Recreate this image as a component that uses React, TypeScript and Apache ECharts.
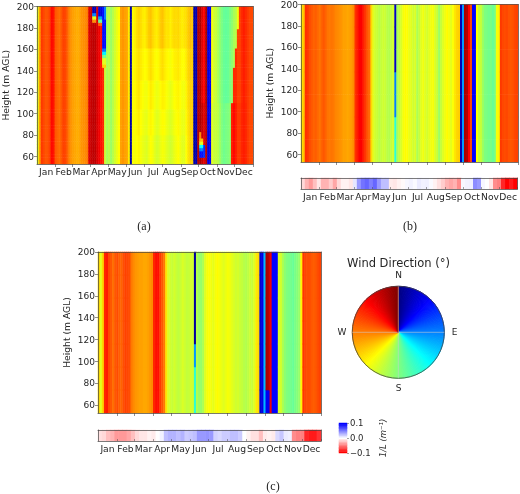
import React, { useEffect, useRef } from "react";
import * as echarts from "echarts";

const months = ["Jan", "Feb", "Mar", "Apr", "May", "Jun", "Jul", "Aug", "Sep", "Oct", "Nov", "Dec"];
const monthEdges = [31, 59, 90, 120, 151, 181, 212, 243, 273, 304, 334, 365];
const monthMids = [15.5, 45, 74.5, 105, 135.5, 166, 196.5, 227.5, 258, 288.5, 319, 349.5];
const heightTicks = [60, 80, 100, 120, 140, 160, 180, 200];
const colorbarTicks = [-0.1, 0, 0.1];

// wind direction (degrees) per column, panel (a): January to early June is the same at all heights
const windAWinterSpring = [
  215, 258, 295, 290, 285, 286, 292, 312, 308, 284,
  280, 276, 284, 292, 290, 280, 268, 262, 258, 256,
  254, 256, 262, 264, 266, 272, 328, 335, 338, 338,
  328, 320, 310, 302, 205, 195, 200, 190, 200, 210,
  218, 225, 258, 262, 258, 256, 232, 15, 224,
];
// June to mid-September, one list per height layer, bottom to top
const windASummerLayerLimits = [80, 105, 130, 160];
const windASummer0 = [222, 225, 228, 222, 218, 215, 212, 218, 225, 222, 215, 210, 212, 218, 222, 220, 215, 212, 208, 212, 218, 222, 225, 220, 215, 215, 225, 235, 240, 240];
const windASummer1 = [224, 227, 231, 225, 221, 218, 216, 222, 228, 225, 219, 214, 216, 222, 226, 224, 219, 216, 212, 216, 221, 224, 227, 222, 218, 218, 227, 236, 241, 241];
const windASummer2 = [226, 230, 234, 228, 224, 221, 220, 226, 232, 228, 222, 218, 220, 226, 230, 228, 223, 220, 216, 220, 225, 227, 229, 225, 221, 221, 229, 238, 242, 242];
const windASummer3 = [228, 232, 236, 232, 228, 225, 227, 232, 237, 232, 227, 224, 227, 233, 237, 232, 228, 226, 222, 226, 230, 231, 233, 229, 225, 226, 232, 240, 244, 243];
const windASummer4 = [230, 236, 240, 237, 232, 230, 236, 243, 246, 239, 234, 231, 236, 243, 246, 239, 234, 235, 230, 235, 238, 237, 239, 234, 231, 234, 237, 244, 249, 245];
// mid-September to December, below and above 110 m
const windAAutumnLow = [
  15, 18, 340, 345, 335, 325, 340, 35, 40, 215, 205,
  205, 200, 190, 180, 175, 178, 180, 185, 305, 312,
  305, 295, 295, 302, 305, 302, 295, 290, 290,
];
const windAAutumnHigh = [
  15, 18, 340, 345, 325, 315, 345, 35, 40, 222, 208,
  205, 195, 185, 178, 172, 170, 172, 178, 185, 300,
  300, 292, 292, 300, 305, 300, 295, 290, 290,
];
// [first column, last column, from height, to height, direction]
const windAPatches = [
  [28, 29, 194, 201, 20], [28, 29, 192, 194, 90], [28, 29, 190, 192, 150], [28, 29, 188, 190, 215], [28, 29, 184, 188, 265],
  [31, 32, 190, 201, 35], [31, 32, 188, 190, 100], [31, 32, 186, 188, 170], [31, 32, 184, 186, 230], [31, 32, 182, 184, 280],
  [33, 34, 160, 201, 50], [34, 34, 187, 201, 90], [33, 34, 157, 160, 85], [33, 34, 154, 157, 130],
  [33, 34, 151, 154, 175], [33, 34, 147, 151, 215], [33, 34, 143, 147, 240],
  [82, 83, 73, 76, 250], [82, 83, 70, 73, 215], [82, 83, 67, 70, 135], [82, 83, 64, 67, 90], [82, 83, 59, 64, 50],
  [82, 82, 76, 82, 265], [84, 84, 60, 72, 60],
  [99, 99, 143, 201, 195], [100, 100, 160, 201, 200], [101, 101, 180, 201, 220],
];

// panel (b)
const windB = [
  235, 245, 298, 295, 288, 284, 280, 282, 278, 274,
  280, 284, 280, 274, 272, 274, 272, 268, 266, 264,
  262, 258, 258, 256, 258, 260, 266, 298, 306, 316,
  316, 304, 295, 284, 278, 238, 214, 208, 205, 200,
  205, 208, 206, 200, 198, 205, 210, 150, 195, 205,
  212, 222, 226, 224, 218, 214, 208, 212, 196, 205,
  215, 220, 214, 210, 216, 220, 222, 212, 205, 190,
  205, 214, 220, 226, 222, 216, 224, 234, 240, 242,
  20, 100, 345, 340, 315, 290, 45, 45, 225, 205,
  205, 190, 180, 178, 175, 178, 172, 178, 222, 228,
  295, 290, 288, 290, 286, 284, 286, 290, 292,
];
const windBPatches = [[47, 47, 137, 201, 25], [47, 47, 105, 137, 90]];

// panel (c)
const windC = [
  240, 215, 240, 302, 306, 290, 284, 276, 284, 288,
  282, 280, 287, 292, 290, 288, 272, 266, 262, 260,
  258, 258, 256, 256, 258, 262, 266, 302, 310, 310,
  295, 284, 272, 234, 212, 208, 205, 210, 205, 202,
  206, 212, 208, 204, 205, 210, 208, 150, 198, 190,
  188, 196, 214, 222, 224, 220, 216, 222, 226, 222,
  218, 214, 218, 222, 220, 216, 212, 208, 210, 206,
  204, 200, 198, 202, 208, 205, 214, 232, 238, 30,
  35, 110, 345, 340, 320, 45, 45, 45, 212, 210,
  195, 185, 180, 178, 175, 172, 178, 182, 188, 228,
  296, 290, 288, 288, 284, 282, 284, 288, 292,
];
const windCPatches = [[47, 47, 126, 201, 12], [47, 47, 95, 126, 100], [82, 83, 53, 74, 40]];

// inverse Obukhov length strips
const stabilityB = [
  -0.015, -0.03, -0.04, -0.025, -0.01, -0.03, -0.03, -0.02, -0.035, -0.015,
  -0.005, -0.005, -0.01, 0.01, 0.04, 0.055, 0.06, 0.05, 0.06, 0.04,
  0.025, 0.025, -0.008, -0.01, -0.005, -0.002, 0.003, 0.005, 0.002, 0.008,
  0.005, 0.006, 0.002, -0.005, -0.012, -0.02, -0.03, -0.035, -0.03, -0.045,
  0.003, 0.005, 0.006, 0.045, 0.04, 0.003, 0, -0.01, -0.045, -0.05,
  -0.085, -0.1, -0.09, -0.1,
];
const stabilityC = [
  -0.012, -0.015, -0.025, -0.03, -0.04, -0.04, -0.04, -0.035, -0.025, -0.015,
  -0.01, -0.01, -0.005, -0.008, 0, 0.005, 0.025, 0.03, 0.03, 0.025,
  0.03, 0.02, 0.022, 0.025, 0.04, 0.04, 0.042, 0.04, 0.018, 0.015,
  0.02, 0.02, 0.025, 0.025, 0.02, 0, -0.005, -0.012, -0.012, -0.025,
  -0.008, -0.005, -0.008, 0.015, 0.022, 0.008, 0.006, -0.045, -0.05, -0.05,
  -0.085, -0.09, -0.09, -0.08,
];
const colorbarLevels = [
  -0.1, -0.09, -0.08, -0.07, -0.06, -0.05, -0.04, -0.03, -0.02, -0.01, 0,
  0.01, 0.02, 0.03, 0.04, 0.05, 0.06, 0.07, 0.08, 0.09, 0.1,
];
const fineHeights = Array.from({ length: 49 }, (_, i) => 54.5 + i * 3);
const coarseHeights = [63.5, 84.5, 105.5, 126.5, 147.5, 168.5, 189.5];
const roseDirections = Array.from({ length: 180 }, (_, i) => 1 + i * 2);

const jetStops = ["#00007f", "#0000ff", "#007fff", "#00ffff", "#7fff7f", "#ffff00", "#ff7f00", "#ff0000", "#7f0000"];
const bwrStops = ["#ff0000", "#ffffff", "#0000ff"];
const FONT = "DejaVu Sans";
const INK = "#262626";
const SPINE = "#444";

function jetColor(dir: number) {
  const t = (dir / 360) * (jetStops.length - 1);
  const i = Math.min(Math.floor(t), jetStops.length - 2);
  const f = t - i;
  const parse = (h: string) => [1, 3, 5].map((k) => parseInt(h.slice(k, k + 2), 16));
  const a = parse(jetStops[i]);
  const b = parse(jetStops[i + 1]);
  return `rgb(${a.map((v, k) => Math.round(v + (b[k] - v) * f)).join(",")})`;
}

function applyPatches(c: number, h: number, v: number, patches: number[][]) {
  let out = v;
  for (const [c0, c1, h0, h1, pv] of patches) {
    if (c >= c0 && c <= c1 && h >= h0 && h < h1) out = pv;
  }
  return out;
}

function windACells() {
  const summerLayers = [windASummer0, windASummer1, windASummer2, windASummer3, windASummer4];
  const nSpring = windAWinterSpring.length;
  const nSummer = windASummer0.length;
  const total = nSpring + nSummer + windAAutumnLow.length;
  const cells: number[][] = [];
  for (let c = 0; c < total; c++) {
    fineHeights.forEach((h, r) => {
      let v: number;
      if (c < nSpring) v = windAWinterSpring[c];
      else if (c < nSpring + nSummer) {
        let layer = windASummerLayerLimits.findIndex((l) => h < l);
        if (layer < 0) layer = summerLayers.length - 1;
        v = summerLayers[layer][c - nSpring];
      } else v = (h < 110 ? windAAutumnLow : windAAutumnHigh)[c - nSpring - nSummer];
      cells.push([c, r, applyPatches(c, h, v, windAPatches)]);
    });
  }
  return { cells, total };
}

function windCells(values: number[], heights: number[], patches: number[][]) {
  const cells: number[][] = [];
  values.forEach((v, c) => {
    heights.forEach((h, r) => cells.push([c, r, applyPatches(c, h, v, patches)]));
  });
  return cells;
}

type Layout = { left: number; top: number; width: number; height: number };

const layouts: Layout[] = [
  { left: 36, top: 6.5, width: 217, height: 157.5 },
  { left: 301, top: 4, width: 217, height: 158 },
  { left: 301, top: 178, width: 217, height: 11 },
  { left: 98, top: 252, width: 223, height: 161 },
  { left: 98, top: 430, width: 223, height: 11 },
  { left: 339, top: 423, width: 8, height: 30 },
];

function App() {
  const ref = useRef<HTMLDivElement>(null);
  useEffect(() => {
    const chart = echarts.init(ref.current!, undefined, { renderer: "svg" });
    const line = { show: true, onZero: false, lineStyle: { color: SPINE, width: 0.7 } };
    const xAxis: any[] = [];
    const yAxis: any[] = [];
    const series: any[] = [];

    const addPanel = (
      g: number,
      kind: "wind" | "strip",
      cells: number[][],
      cols: number,
      rows: number,
      opts: { xLabels: boolean }
    ) => {
      const xCat = xAxis.length;
      xAxis.push({
        type: "category", gridIndex: g, position: "top", z: 5,
        data: Array.from({ length: cols }, (_, i) => String(i)),
        axisLine: line, axisTick: { show: false }, axisLabel: { show: false }, splitLine: { show: false },
      });
      xAxis.push({
        type: "value", gridIndex: g, position: "bottom", min: 0, max: 365, z: 5,
        axisLine: line,
        axisTick: kind === "strip"
          ? { show: true, customValues: monthEdges, inside: true, length: 2, lineStyle: { color: SPINE, width: 0.5 } }
          : { show: true, customValues: monthEdges, length: 3, lineStyle: { color: SPINE, width: 0.6 } },
        axisLabel: {
          show: opts.xLabels, customValues: monthMids, fontFamily: FONT, fontSize: 9.2, color: INK, margin: 3,
          hideOverlap: false, showMinLabel: true, showMaxLabel: true,
          formatter: (v: number) => months[monthMids.indexOf(v)] ?? "",
        },
        splitLine: { show: false },
      });
      const yCat = yAxis.length;
      yAxis.push({
        type: "category", gridIndex: g, position: "right", z: 5,
        data: Array.from({ length: rows }, (_, i) => String(i)),
        axisLine: line, axisTick: { show: false }, axisLabel: { show: false }, splitLine: { show: false },
      });
      yAxis.push(
        kind === "wind"
          ? {
              type: "value", gridIndex: g, position: "left", min: 53, max: 200, z: 5,
              name: "Height (m AGL)", nameLocation: "middle", nameGap: 27, nameRotate: 90,
              nameTextStyle: { fontFamily: FONT, fontSize: 9.2, color: INK },
              axisLine: line,
              axisTick: { show: true, customValues: heightTicks, length: 3, lineStyle: { color: SPINE, width: 0.6 } },
              axisLabel: { show: true, customValues: heightTicks, fontFamily: FONT, fontSize: 9, color: INK, margin: 3 },
              splitLine: { show: false },
            }
          : {
              type: "value", gridIndex: g, position: "left", min: 0, max: 1, z: 5,
              axisLine: line, axisTick: { show: false }, axisLabel: { show: false }, splitLine: { show: false },
            }
      );
      series.push({
        type: "heatmap", xAxisIndex: xCat, yAxisIndex: yCat, data: cells, progressive: 0, silent: true,
        itemStyle: { borderWidth: 0 },
      });
    };

    const a = windACells();
    addPanel(0, "wind", a.cells, a.total, fineHeights.length, { xLabels: true });
    addPanel(1, "wind", windCells(windB, coarseHeights, windBPatches), windB.length, coarseHeights.length, { xLabels: false });
    addPanel(2, "strip", stabilityB.map((v, i) => [i, 0, v]), stabilityB.length, 1, { xLabels: true });
    addPanel(3, "wind", windCells(windC, coarseHeights, windCPatches), windC.length, coarseHeights.length, { xLabels: false });
    addPanel(4, "strip", stabilityC.map((v, i) => [i, 0, v]), stabilityC.length, 1, { xLabels: true });

    // colour bar
    const cbX = xAxis.length;
    xAxis.push({
      type: "category", gridIndex: 5, position: "bottom", data: ["L"], z: 5,
      axisLine: { show: false }, axisTick: { show: false }, axisLabel: { show: false },
    });
    const cbY = yAxis.length;
    yAxis.push({
      type: "category", gridIndex: 5, position: "left", z: 5,
      data: colorbarLevels.map(String),
      axisLine: { show: false }, axisTick: { show: false }, axisLabel: { show: false },
    });
    yAxis.push({
      type: "value", gridIndex: 5, position: "right", min: -0.1, max: 0.1, z: 5,
      name: "1/L (m⁻¹)", nameLocation: "middle", nameGap: 31, nameRotate: 90,
      nameTextStyle: { fontFamily: FONT, fontSize: 8.5, fontStyle: "italic", color: INK },
      axisLine: { show: false },
      axisTick: { show: true, customValues: colorbarTicks, length: 2, lineStyle: { color: SPINE, width: 0.5 } },
      axisLabel: {
        show: true, customValues: colorbarTicks, fontFamily: FONT, fontSize: 8.5, color: INK, margin: 3,
        formatter: (v: number) => v.toFixed(1).replace("-", "−"),
      },
      splitLine: { show: false },
    });
    series.push({
      type: "heatmap", xAxisIndex: cbX, yAxisIndex: cbY, progressive: 0, silent: true,
      data: colorbarLevels.map((v, i) => [0, i, v]),
    });

    // wind rose
    const cx = 398.3, cy = 332.3, R = 46;
    series.push({
      type: "pie", center: [cx, cy], radius: [0, R], startAngle: 90, clockwise: true, silent: true,
      label: { show: false }, labelLine: { show: false }, emphasis: { disabled: true },
      data: roseDirections.map((d) => {
        const c = jetColor(d);
        return { value: 1, name: String(d), itemStyle: { color: c, borderColor: c, borderWidth: 1 } };
      }),
    });

    const label = (text: string, x: number, y: number, fontSize = 9, family = FONT) => ({
      type: "text", x, y, silent: true, z: 10,
      style: { text, fontFamily: family, fontSize, fill: INK, align: "center", verticalAlign: "middle" },
    });
    const cross = { stroke: "rgba(205,205,205,0.8)", lineWidth: 0.7 };

    chart.setOption({
      animation: false,
      textStyle: { fontFamily: FONT },
      grid: layouts.map((l) => ({ ...l, containLabel: false })),
      xAxis,
      yAxis,
      visualMap: [
        { type: "continuous", show: false, seriesIndex: [0, 1, 3], dimension: 2, min: 0, max: 360, inRange: { color: jetStops } },
        { type: "continuous", show: false, seriesIndex: [2, 4, 5], dimension: 2, min: -0.1, max: 0.1, inRange: { color: bwrStops } },
      ],
      series,
      graphic: [
        { type: "circle", silent: true, z: 100, shape: { cx, cy, r: R }, style: { fill: "none", stroke: "#444", lineWidth: 0.8 } },
        { type: "line", silent: true, z: 100, shape: { x1: cx, y1: cy - R, x2: cx, y2: cy + R }, style: cross },
        { type: "line", silent: true, z: 100, shape: { x1: cx - R, y1: cy, x2: cx + R, y2: cy }, style: cross },
        label("Wind Direction (°)", 398.5, 263, 11.5),
        label("N", 398.5, 275),
        label("S", 398.5, 388),
        label("E", 454.5, 332),
        label("W", 342, 332),
        label("(a)", 144, 226, 12, "Liberation Serif"),
        label("(b)", 410, 226, 12, "Liberation Serif"),
        label("(c)", 273, 486, 12, "Liberation Serif"),
      ],
    });
    return () => chart.dispose();
  }, []);
  return (
    <div
      ref={ref}
      style={{ position: "absolute", left: 0, top: 0, width: 520, height: 494, background: "#fff", filter: "blur(0.5px)" }}
    />
  );
}

export default App;
